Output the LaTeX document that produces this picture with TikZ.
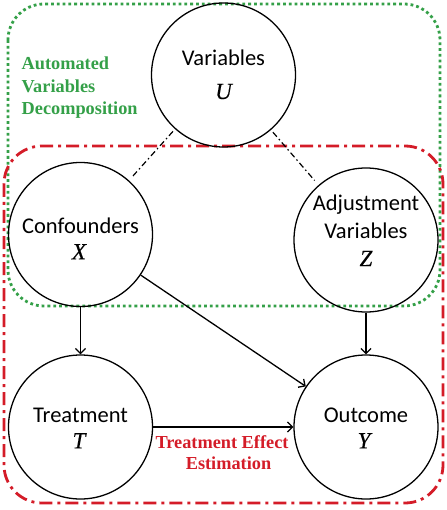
\documentclass[tikz,border=0pt]{standalone}
\usepackage{fontspec}
\setmainfont{Carlito}
\newfontfamily\serifb{Liberation Serif}
\newfontfamily\myvarfont{Liberation Serif}[FakeBold=0.2]
\usetikzlibrary{arrows.meta}
\definecolor{grn}{RGB}{52,160,72}
\definecolor{rd}{RGB}{212,28,40}
\begin{document}
\begin{tikzpicture}[x=1pt,y=-1pt,
  circ/.style={circle,draw,line width=1.3pt,minimum size=144pt,inner sep=0pt},
  txt/.style={anchor=base,inner sep=0pt,font=\fontsize{22.5}{27}\selectfont},
  mth/.style={anchor=base,inner sep=0pt,font=\myvarfont\itshape\fontsize{23}{27}\selectfont},
  arr/.style={line width=1.3pt,-{Straight Barb[length=5pt,width=10pt,line width=1.3pt]}},
  dd/.style={line width=1.2pt,dash pattern=on 6pt off 3pt on 1.5pt off 3pt,shorten <=3pt,shorten >=6pt},
  glabel/.style={text=grn,font=\serifb\bfseries\fontsize{18.3}{22}\selectfont,anchor=base west,inner sep=0pt},
  rlabel/.style={text=rd,font=\serifb\bfseries\fontsize{18.3}{22}\selectfont,anchor=base,inner sep=0pt}]
\useasboundingbox (0,0) rectangle (446,510);
% boxes
\draw[grn,line width=2.8pt,dash pattern=on 2.8pt off 3pt,rounded corners=36pt] (8,4) rectangle (440,306);
\draw[rd,line width=2.8pt,dash pattern=on 13pt off 5pt on 3pt off 5pt,rounded corners=38pt] (4,146) rectangle (443,503);
% circles
\node[circ] (U) at (223.5,75) {};
\node[circ] (X) at (80.5,234.5) {};
\node[circ] (Z) at (366,240) {};
\node[circ] (T) at (80.5,427) {};
\node[circ] (Y) at (366,427) {};
% texts in circles
\node[txt] (U1) at (223.5,66) {Variables};
\node[mth] (U2) at (223.5,99) {U};
\node[txt] (X1) at (80.5,233.3) {Confounders};
\node[mth] (X2) at (79,259.3) {X};
\node[txt] (Z1) at (366,211) {Adjustment};
\node[txt] (Z2) at (366,238.3) {Variables};
\node[mth] (Z3) at (366,266) {Z};
\node[txt] (T1) at (80.5,422.7) {Treatment};
\node[mth] (T2) at (79,448.3) {T};
\node[txt] (Y1) at (366,422.7) {Outcome};
\node[mth] (Y2) at (364,448.3) {Y};
% labels
\node[glabel] (g1) at (21.5,70) {Automated};
\node[glabel] (g2) at (21.5,92.5) {Variables};
\node[glabel] (g3) at (21.5,115) {Decomposition};
\node[rlabel] (r1) at (222,448) {Treatment Effect};
\node[rlabel] (r2) at (228.5,469.5) {Estimation};
% connectors
\draw[dd] (U) -- (X);
\draw[dd] (U) -- (Z);
\draw[arr] (X) -- (T);
\draw[arr] (X) -- (Y);
\draw[arr] (Z) -- (Y);
\draw[arr] (T) -- (Y);
\end{tikzpicture}
\end{document}
